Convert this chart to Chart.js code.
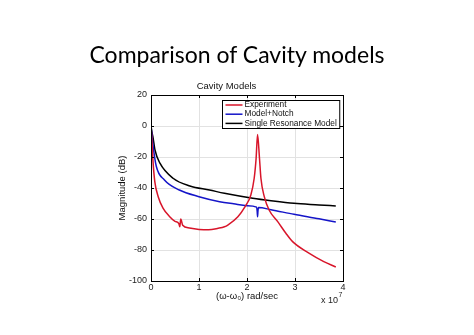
<!DOCTYPE html>
<html>
<head>
<meta charset="utf-8">
<script src="https://cdn.jsdelivr.net/npm/chart.js@4.4.0/dist/chart.umd.min.js"></script>
<style>
  html, body { margin: 0; padding: 0; background: #fff; }
  #page { position: relative; width: 474px; height: 335px; }
  #heading {
    position: absolute; left: 0; top: 42.5px; width: 474px;
    text-align: center; font: 23px/23px Lato, "Open Sans", sans-serif;
    color: #000;
  }
  canvas { position: absolute; left: 0; top: 0; }
</style>
</head>
<body>
<div id="page">
  <canvas id="cavityChart" width="474" height="335"></canvas>
  <div id="heading">Comparison of Cavity models</div>
</div>
<script>
// x values are in units of 1e7 rad/sec (axis shows "x 10^7")
const expX = [0, 0.02, 0.04, 0.08, 0.15, 0.25, 0.39, 0.5, 0.58, 0.6, 0.62, 0.66, 0.8, 1.0, 1.2, 1.4, 1.53, 1.6, 1.81, 1.96, 2.08, 2.15, 2.19, 2.22, 2.26, 2.29, 2.36, 2.46, 2.64, 2.81, 2.95, 3.29, 3.6, 3.85];
const expY = [0, -10, -22, -36, -45.6, -53, -58.5, -61.5, -63, -65, -60, -64, -65.8, -66.7, -67, -66, -65, -63.9, -58.5, -52, -44.5, -33.7, -20.8, -5.5, -20.8, -33.7, -45.6, -54.2, -61.7, -69.2, -74.6, -82, -87.5, -91];

const notchX = [0, 0.02, 0.04, 0.11, 0.28, 0.59, 1.0, 1.43, 1.72, 2.0, 2.2, 2.212, 2.22, 2.228, 2.24, 2.5, 2.98, 3.5, 3.85];
const notchY = [0, -6, -12, -26, -34.8, -41.3, -45.6, -48.8, -50.2, -51.4, -52.3, -55, -58.5, -55, -52.6, -54, -57, -59.9, -62];

const singleX = [0, 0.02, 0.04, 0.083, 0.186, 0.46, 0.81, 1.22, 1.53, 2.12, 2.5, 2.98, 3.5, 3.85];
const singleY = [0, -4, -7, -15.5, -24, -33.7, -38.7, -41.3, -43.4, -46.6, -48.2, -49.9, -50.9, -51.6];

const seriesNames = ['Experiment', 'Model+Notch', 'Single Resonance Model'];
const seriesColors = ['#d8152a', '#1414c8', '#000000'];

const yTicks = [20, 0, -20, -40, -60, -80, -100];
const xTicks = [0, 1, 2, 3, 4];
const xExponent = '7';

function toPoints(xs, ys) {
    return xs.map((x, i) => ({ x: x, y: ys[i] }));
}

const FONT = '"Liberation Sans", Arial, sans-serif';

// box, inward ticks, legend and the "x 10^7" mark, matlab style
const matlabExtras = {
    id: 'matlabExtras',
    afterDatasetsDraw(chart) {
        const ctx = chart.ctx;
        const area = chart.chartArea;
        const xs = chart.scales.x;
        const ys = chart.scales.y;
        ctx.save();
        ctx.strokeStyle = '#000';
        ctx.lineWidth = 1;
        ctx.strokeRect(Math.round(area.left) + 0.5, Math.round(area.top) + 0.5,
            Math.round(area.right - area.left), Math.round(area.bottom - area.top));

        ctx.beginPath();
        xTicks.forEach(v => {
            const px = Math.round(xs.getPixelForValue(v)) + 0.5;
            ctx.moveTo(px, area.bottom); ctx.lineTo(px, area.bottom - 3);
            ctx.moveTo(px, area.top); ctx.lineTo(px, area.top + 3);
        });
        yTicks.forEach(v => {
            const py = Math.round(ys.getPixelForValue(v)) + 0.5;
            ctx.moveTo(area.left, py); ctx.lineTo(area.left + 3, py);
            ctx.moveTo(area.right, py); ctx.lineTo(area.right - 3, py);
        });
        ctx.stroke();

        // legend
        ctx.font = '8.3px ' + FONT;
        let textW = 0;
        chart.data.datasets.forEach(ds => { textW = Math.max(textW, ctx.measureText(ds.label).width); });
        const boxW = 22 + textW + 3;
        const boxH = 28;
        const bx = Math.round(area.right - 4 - boxW) + 0.5;
        const by = Math.round(area.top + 5) + 0.5;
        ctx.fillStyle = '#fff';
        ctx.fillRect(bx, by, boxW, boxH);
        ctx.strokeStyle = '#000';
        ctx.strokeRect(bx, by, boxW, boxH);
        ctx.textBaseline = 'middle';
        chart.data.datasets.forEach((ds, i) => {
            const ry = by + 4.5 + i * 9.2;
            ctx.strokeStyle = ds.borderColor;
            ctx.lineWidth = 1.5;
            ctx.beginPath();
            ctx.moveTo(bx + 3, ry);
            ctx.lineTo(bx + 20, ry);
            ctx.stroke();
            ctx.fillStyle = '#111';
            ctx.fillText(ds.label, bx + 22, ry);
        });

        // exponent label
        ctx.fillStyle = '#222';
        ctx.font = '9px ' + FONT;
        ctx.textBaseline = 'alphabetic';
        ctx.textAlign = 'right';
        ctx.fillText('x 10', area.right - 5, 303);
        ctx.font = '7px ' + FONT;
        ctx.textAlign = 'left';
        ctx.fillText(xExponent, area.right - 4.5, 297);
        ctx.restore();
    }
};

const ctx = document.getElementById('cavityChart').getContext('2d');
const chart = new Chart(ctx, {
    type: 'line',
    data: {
        datasets: [
            { label: seriesNames[0], data: toPoints(expX, expY), borderColor: seriesColors[0] },
            { label: seriesNames[1], data: toPoints(notchX, notchY), borderColor: seriesColors[1] },
            { label: seriesNames[2], data: toPoints(singleX, singleY), borderColor: seriesColors[2] }
        ]
    },
    options: {
        responsive: false,
        animation: false,
        datasets: {
            line: {
                borderWidth: 1.5,
                pointRadius: 0,
                fill: false,
                cubicInterpolationMode: 'monotone'
            }
        },
        layout: {
            padding: { top: 80.6, left: 110, right: 131, bottom: 30 }
        },
        plugins: {
            legend: { display: false },
            tooltip: { enabled: false },
            title: {
                display: true,
                text: 'Cavity Models',
                color: '#111',
                font: { family: FONT, size: 9.5, weight: 'normal' },
                padding: { top: 0, bottom: 3 }
            }
        },
        scales: {
            x: {
                type: 'linear',
                min: 0,
                max: 4,
                afterFit: s => { s.height = 24; },
                afterBuildTicks: s => { s.ticks = xTicks.map(v => ({ value: v })); },
                grid: { color: '#e2e2e2', drawTicks: false },
                border: { display: false },
                ticks: { color: '#222', padding: 1, font: { family: FONT, size: 9 } },
                title: {
                    display: true,
                    text: '(\u03c9-\u03c9\u2080) rad/sec',
                    color: '#111',
                    font: { family: FONT, size: 9.5 },
                    padding: { top: 0, bottom: 2.6 }
                }
            },
            y: {
                min: -100,
                max: 20,
                afterFit: s => { s.width = 41; },
                afterBuildTicks: s => { s.ticks = yTicks.slice().reverse().map(v => ({ value: v })); },
                grid: { color: '#e2e2e2', drawTicks: false },
                border: { display: false },
                ticks: { color: '#222', padding: 4, font: { family: FONT, size: 9 } },
                title: {
                    display: true,
                    text: 'Magnitude (dB)',
                    color: '#111',
                    font: { family: FONT, size: 9.5 },
                    padding: { top: 6.6, bottom: 0 }
                }
            }
        }
    },
    plugins: [matlabExtras]
});
</script>
</body>
</html>
